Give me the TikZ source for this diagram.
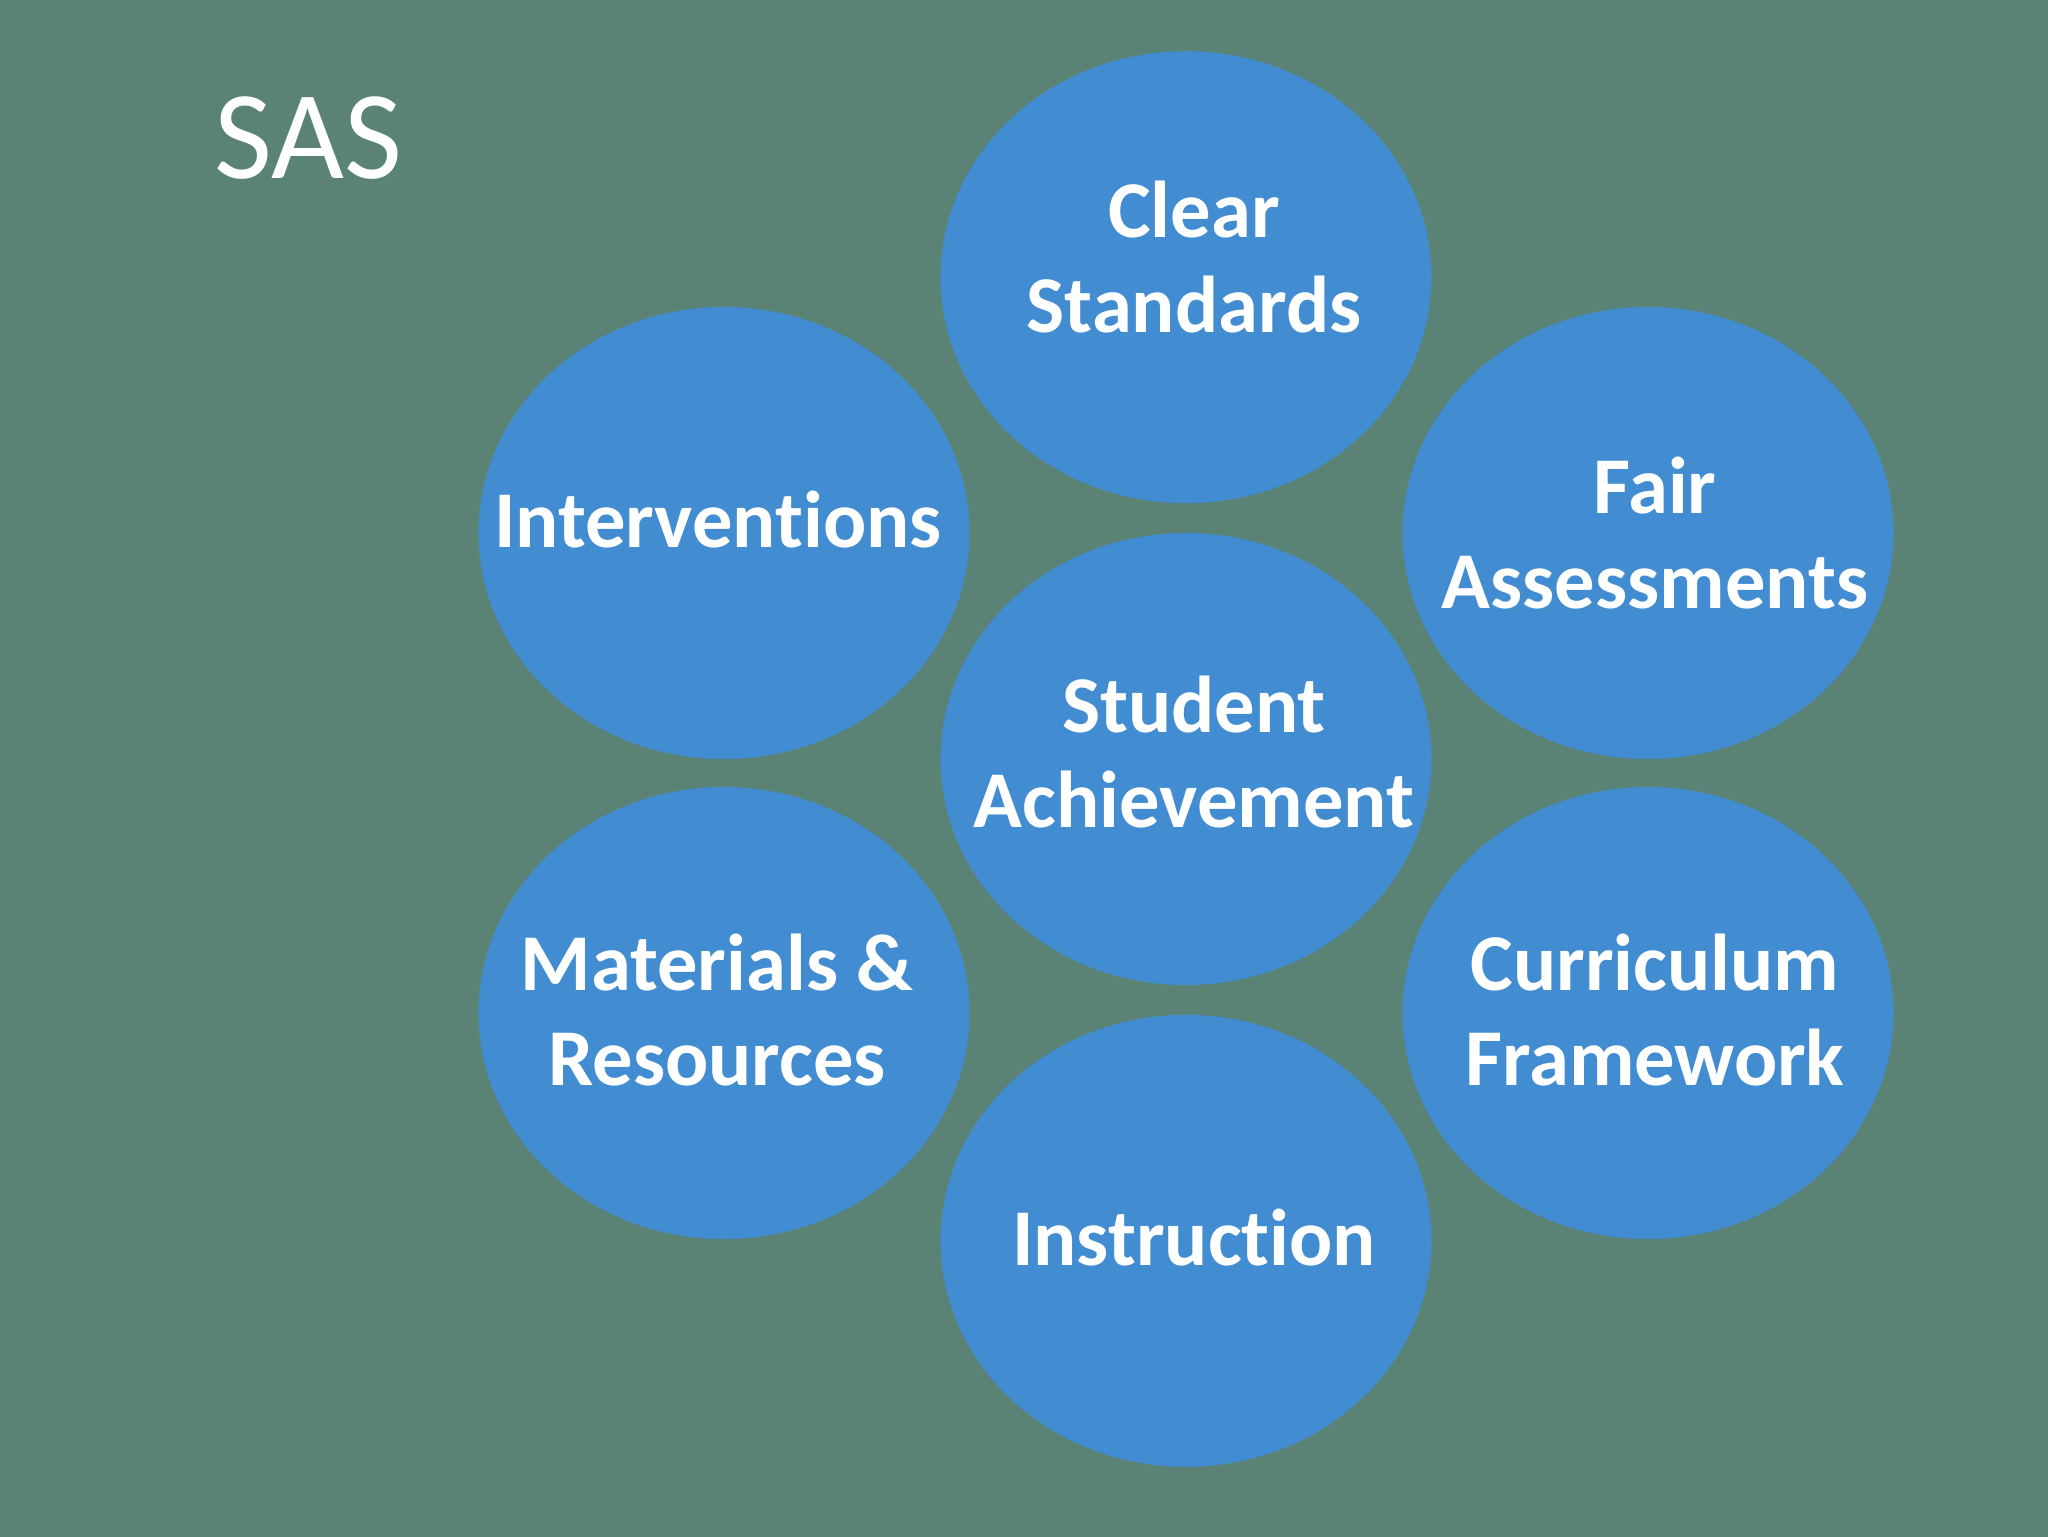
\documentclass[tikz,border=0pt]{standalone}
\usepackage{fontspec}
\setmainfont{Carlito}[Ligatures=NoCommon]
\usetikzlibrary{shapes.geometric,positioning}
\definecolor{slidebg}{RGB}{90,131,118}
\definecolor{blobblue}{RGB}{66,140,210}

\begin{document}
\begin{tikzpicture}[x=0.5pt,y=-0.5pt,
        blob/.style={ellipse,fill=blobblue,draw=none,minimum width=245.5pt,
        minimum height=226pt,inner sep=0pt},
        blobtext/.style={text=white,align=center,inner sep=0pt,
        font=\fontsize{40.3}{47.5}\selectfont\bfseries}]

        % Background
        \useasboundingbox (0,0) rectangle (2048,1536);
        \fill[slidebg] (-10,-10) rectangle (2058,1546);

        % Title
        \node[anchor=base west,text=white,inner sep=0pt,font=\fontsize{63}{70}\selectfont] (title) at (214,178) {SAS};

        % Middle column
        \node[blob] (sa) at (1186,759) {};
        \node[blob,above=14.5pt of sa] (cs) {};
        \node[blob,below=14.5pt of sa] (in) {};
        % Left column
        \node[blob] (iv) at (724,533) {};
        \node[blob] (mr) at (724,1013) {};
        % Right column
        \node[blob] (fa) at (1648,533) {};
        \node[blob] (cf) at (1648,1013) {};

        % Labels
        \node[blobtext] (cs-t) at ([shift={(8,-20)}]cs) {Clear\\Standards};
        \node[blobtext] (sa-t) at ([shift={(8,-7)}]sa) {Student\\Achievement};
        \node[blobtext] (in-t) at ([shift={(8,-3)}]in) {Instruction};
        \node[blobtext] (iv-t) at ([shift={(-6,-13)}]iv) {Interventions};
        \node[blobtext] (mr-t) at ([shift={(-7,-3)}]mr) {Materials \&\\Resources};
        \node[blobtext] (fa-t) at ([shift={(7,0)}]fa) {Fair\\Assessments};
        \node[blobtext] (cf-t) at ([shift={(7,-3)}]cf) {Curriculum\\Framework};

\end{tikzpicture}
\end{document}
